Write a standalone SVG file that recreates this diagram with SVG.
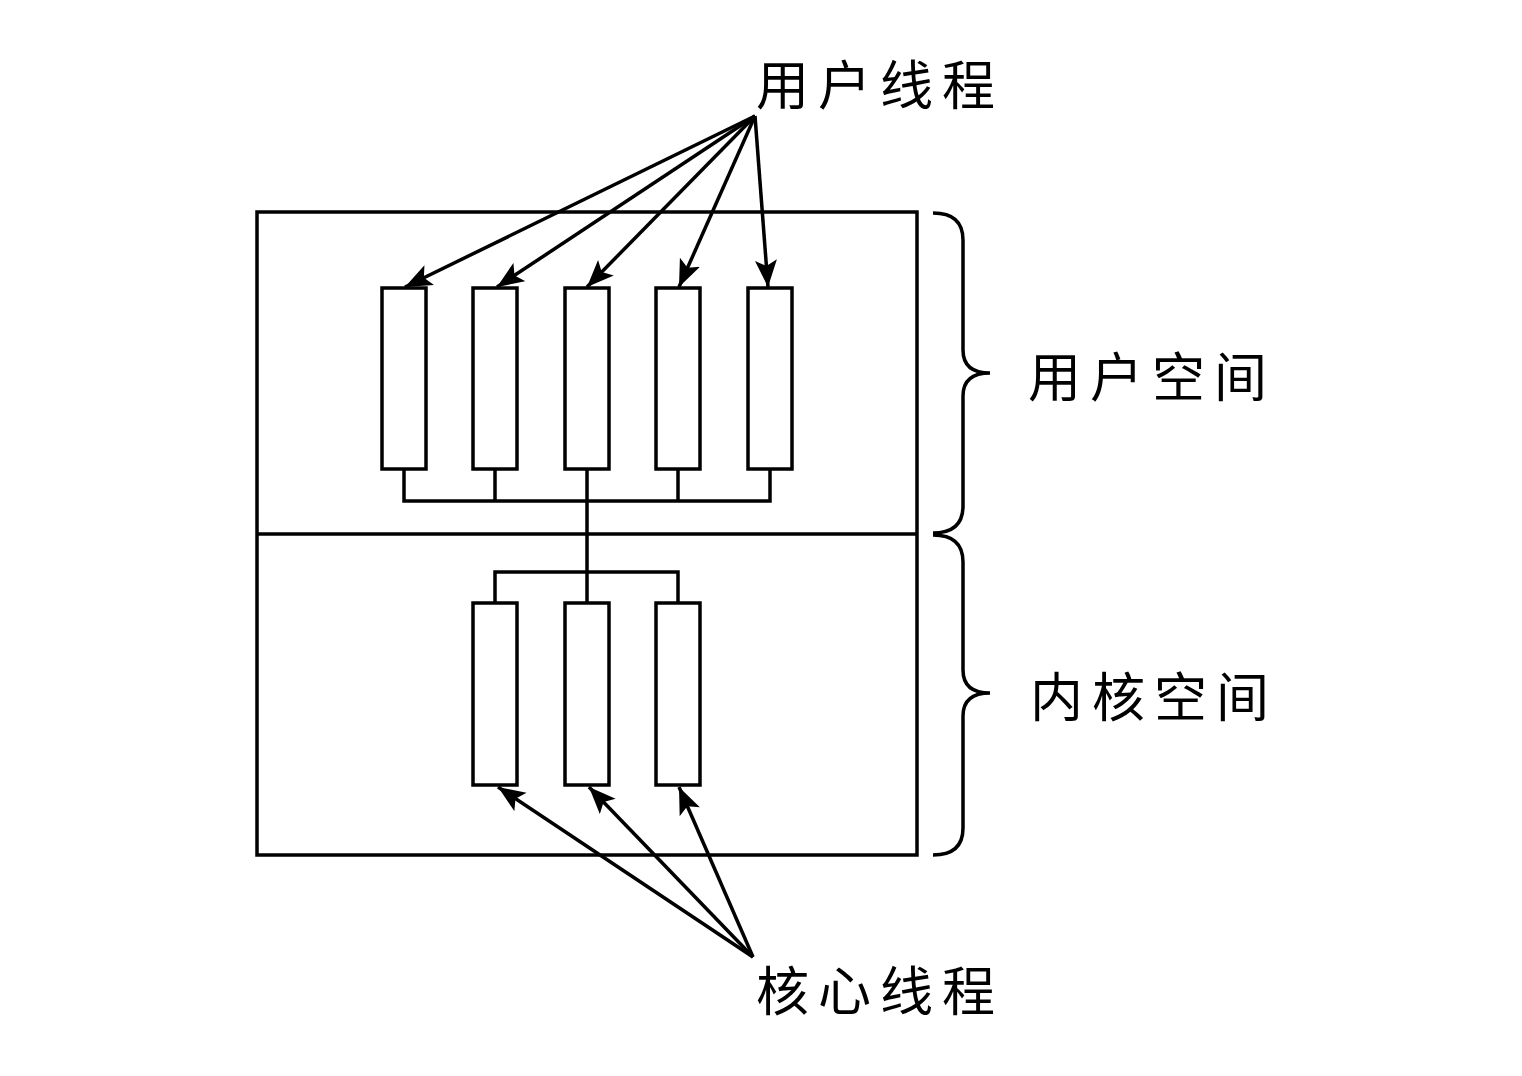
<svg xmlns="http://www.w3.org/2000/svg" width="1522" height="1076" viewBox="0 0 1522 1076">
<style>
.s{fill:none;stroke:#000;stroke-width:3.5}
.b{fill:#fff;stroke:#000;stroke-width:3.5}
.t{font-family:"Noto Sans CJK SC","Noto Sans CJK JP",sans-serif;font-size:53px;letter-spacing:9px;fill:#000}
</style>
<defs>
<marker id="ah" markerUnits="userSpaceOnUse" markerWidth="30" markerHeight="24" refX="27" refY="11" orient="auto">
<path d="M0,0 L27,11 L0,22 L6,11 Z" fill="#000"/>
</marker>
</defs>
<rect width="1522" height="1076" fill="#fff"/>
<g id="frame">
<rect class="s" x="257" y="212" width="660" height="643"/>
<line class="s" x1="257" y1="534" x2="917" y2="534"/>
</g>
<g id="connectors">
<path class="s" d="M404,469 V501 H770 V469 M495,469 V501 M678,469 V501 M587,469 V603 M495,603 V572 H678 V603"/>
<line class="s" x1="755" y1="116" x2="405" y2="287" marker-end="url(#ah)"/>
<line class="s" x1="755" y1="116" x2="497" y2="287" marker-end="url(#ah)"/>
<line class="s" x1="755" y1="116" x2="587" y2="287" marker-end="url(#ah)"/>
<line class="s" x1="755" y1="116" x2="679" y2="287" marker-end="url(#ah)"/>
<line class="s" x1="755" y1="116" x2="768" y2="287" marker-end="url(#ah)"/>
<line class="s" x1="753" y1="957" x2="498" y2="787" marker-end="url(#ah)"/>
<line class="s" x1="753" y1="957" x2="589" y2="787" marker-end="url(#ah)"/>
<line class="s" x1="753" y1="957" x2="679" y2="787" marker-end="url(#ah)"/>
</g>
<g id="user-threads">
<rect class="b" x="382" y="288" width="44" height="181"/>
<rect class="b" x="473" y="288" width="44" height="181"/>
<rect class="b" x="565" y="288" width="44" height="181"/>
<rect class="b" x="656" y="288" width="44" height="181"/>
<rect class="b" x="748" y="288" width="44" height="181"/>
</g>
<g id="kernel-threads">
<rect class="b" x="473" y="603" width="44" height="182"/>
<rect class="b" x="565" y="603" width="44" height="182"/>
<rect class="b" x="656" y="603" width="44" height="182"/>
</g>
<g id="braces">
<path class="s" d="M933,213 Q963,213 963,240 V350 Q963,373 990,373 Q963,373 963,396 V506 Q963,533 933,533"/>
<path class="s" d="M933,535 Q963,535 963,562 V670 Q963,693 990,693 Q963,693 963,716 V828 Q963,855 933,855"/>
</g>
<g id="label-user-thread"><text class="t" x="756" y="105">用户线程</text></g>
<g id="label-user-space"><text class="t" x="1028" y="397">用户空间</text></g>
<g id="label-kernel-space"><text class="t" x="1030" y="717">内核空间</text></g>
<g id="label-kernel-thread"><text class="t" x="756" y="1011">核心线程</text></g>
</svg>
